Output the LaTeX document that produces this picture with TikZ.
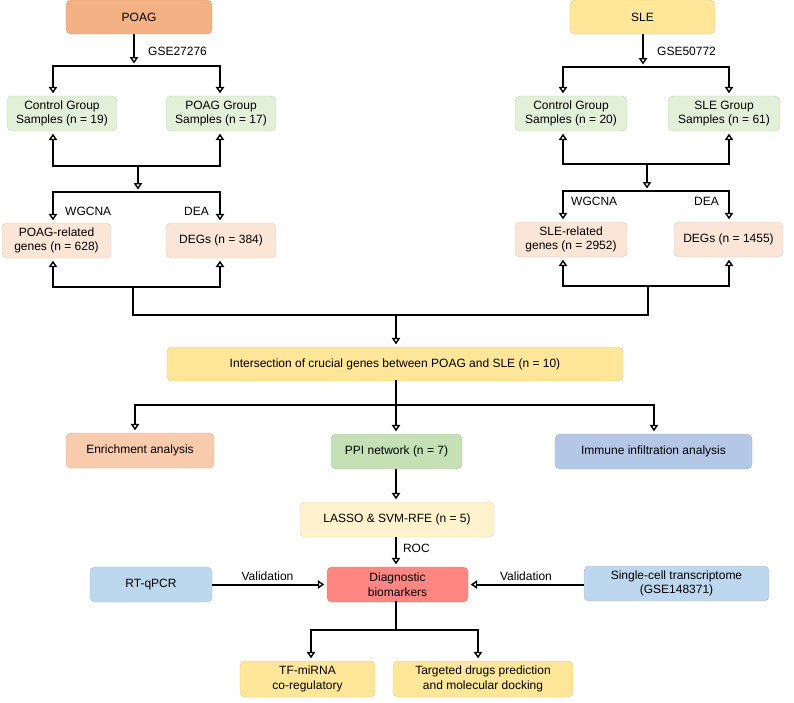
\documentclass[tikz,border=0pt]{standalone}
\usepackage{fontspec}
\setmainfont{Liberation Sans}
\usetikzlibrary{arrows.meta, positioning}

\definecolor{poagc}{HTML}{F4B183}
\definecolor{slec}{HTML}{FFE699}
\definecolor{sampc}{HTML}{E2F0D9}
\definecolor{genec}{HTML}{FBE5D6}
\definecolor{enrichc}{HTML}{F8CBAD}
\definecolor{ppic}{HTML}{C5E0B4}
\definecolor{immunec}{HTML}{B4C7E7}
\definecolor{lassoc}{HTML}{FFF2CC}
\definecolor{diagc}{HTML}{FF8682}
\definecolor{validc}{HTML}{BDD7EE}

\begin{document}
\begin{tikzpicture}[
    x=1pt, y=-1pt,
    box/.style={rounded corners=5pt, draw=#1!88!black, fill=#1, line width=0.4pt, align=center,
      inner sep=2pt, minimum height=35pt, font=\fontsize{12}{14.5}\selectfont},
    lbl/.style={inner sep=2pt, font=\fontsize{12}{14.5}\selectfont},
    line/.style={line width=2pt, line cap=rect},
    arr/.style={line width=2pt, -{Triangle[open, length=6.5pt, width=8.5pt, line width=1.4pt]}, shorten >=2.5pt}
  ]
  \useasboundingbox (0,0) rectangle (794,702);

  % POAG side
  \node[box=poagc, minimum width=146pt, minimum height=34pt] (poag) at (139,17) {POAG};
  \node[box=sampc, minimum width=110pt] (ctrlA) at (62,113.5) {Control Group\\Samples (n = 19)};
  \node[box=sampc, minimum width=110pt] (grpA) at (221,113.5) {POAG Group\\Samples (n = 17)};
  \node[box=genec, minimum width=109pt] (wgcnaA) at (56.5,240.5) {POAG-related\\genes (n = 628)};
  \node[box=genec, minimum width=110pt] (degA) at (221,240.5) {DEGs (n = 384)};

  % SLE side
  \node[box=slec, minimum width=145pt, minimum height=34pt] (sle) at (642.5,17) {SLE};
  \node[box=sampc, minimum width=112pt] (ctrlB) at (571,113.5) {Control Group\\Samples (n = 20)};
  \node[box=sampc, minimum width=112pt] (grpB) at (724,113.5) {SLE Group\\Samples (n = 61)};
  \node[box=genec, minimum width=112pt] (wgcnaB) at (571,239.5) {SLE-related\\genes (n = 2952)};
  \node[box=genec, minimum width=109pt] (degB) at (728.5,239.5) {DEGs (n = 1455)};

  % shared part
  \node[box=slec, minimum width=456pt, minimum height=34pt] (inter) at (395,364) {Intersection of crucial genes between POAG and SLE (n = 10)};
  \node[box=enrichc, minimum width=148pt] (enrich) at (140,450.5) {Enrichment analysis};
  \node[box=ppic, minimum width=131pt] (ppi) at (396.5,451.5) {PPI network (n = 7)};
  \node[box=immunec, minimum width=197pt] (immune) at (653.5,451.5) {Immune infiltration analysis};
  \node[box=lassoc, minimum width=194pt] (lasso) at (397,519.5) {LASSO \& SVM-RFE (n = 5)};
  \node[box=diagc, minimum width=141pt] (diag) at (397.5,584.5) {Diagnostic\\biomarkers};
  \node[box=validc, minimum width=122pt] (rtqpcr) at (151,584.5) {RT-qPCR};
  \node[box=validc, minimum width=185pt] (single) at (676.5,583.5) {Single-cell transcriptome\\(GSE148371)};
  \node[box=slec, minimum width=135pt, minimum height=36pt] (tfmirna) at (307.5,679) {TF-miRNA\\co-regulatory};
  \node[box=slec, minimum width=180pt, minimum height=36pt] (drugs) at (483,679) {Targeted drugs prediction\\and molecular docking};

  % POAG connectors
  \coordinate (splitA) at (134,66);
  \coordinate (splitAl) at (53,66);
  \coordinate (splitAr) at (220,66);
  \draw[arr] (poag.south -| splitA) -- (splitA);
  \node[lbl, anchor=west] (gseA) at (146,51) {GSE27276};
  \draw[line] (splitAl) -- (splitAr);
  \draw[arr] (splitAl) -- (splitAl |- ctrlA.north);
  \draw[arr] (splitAr) -- (splitAr |- grpA.north);

  \coordinate (joinAl) at (53,166);
  \coordinate (joinAr) at (220,166);
  \coordinate (joinA) at (138,166);
  \coordinate (geneAl) at (53,192);
  \coordinate (geneAr) at (220,192);
  \draw[arr] (joinAl) -- (joinAl |- ctrlA.south);
  \draw[arr] (joinAr) -- (joinAr |- grpA.south);
  \draw[line] (joinAl) -- (joinAr);
  \draw[arr] (joinA) -- (joinA |- geneAl);
  \draw[line] (geneAl) -- (geneAr);
  \draw[arr] (geneAl) -- (geneAl |- wgcnaA.north);
  \draw[arr] (geneAr) -- (geneAr |- degA.north);
  \node[lbl, anchor=west] (wgA) at (63,211) {WGCNA};
  \node[lbl, anchor=east] (deA) at (211,211) {DEA};

  \coordinate (botAl) at (53,287);
  \coordinate (botAr) at (220,287);
  \draw[arr] (botAl) -- (botAl |- wgcnaA.south);
  \draw[arr] (botAr) -- (botAr |- degA.south);
  \draw[line] (botAl) -- (botAr);

  % SLE connectors
  \coordinate (splitB) at (643,67);
  \coordinate (splitBl) at (563,67);
  \coordinate (splitBr) at (729,67);
  \draw[arr] (sle.south -| splitB) -- (splitB);
  \node[lbl, anchor=west] (gseB) at (655,51) {GSE50772};
  \draw[line] (splitBl) -- (splitBr);
  \draw[arr] (splitBl) -- (splitBl |- ctrlB.north);
  \draw[arr] (splitBr) -- (splitBr |- grpB.north);

  \coordinate (joinBl) at (563,164);
  \coordinate (joinBr) at (729,164);
  \coordinate (joinB) at (647,164);
  \coordinate (geneBl) at (563,191);
  \coordinate (geneBr) at (729,191);
  \draw[arr] (joinBl) -- (joinBl |- ctrlB.south);
  \draw[arr] (joinBr) -- (joinBr |- grpB.south);
  \draw[line] (joinBl) -- (joinBr);
  \draw[arr] (joinB) -- (joinB |- geneBl);
  \draw[line] (geneBl) -- (geneBr);
  \draw[arr] (geneBl) -- (geneBl |- wgcnaB.north);
  \draw[arr] (geneBr) -- (geneBr |- degB.north);
  \node[lbl, anchor=west] (wgB) at (569,201) {WGCNA};
  \node[lbl, anchor=east] (deB) at (721,201) {DEA};

  \coordinate (botBl) at (563,286);
  \coordinate (botBr) at (729,286);
  \draw[arr] (botBl) -- (botBl |- wgcnaB.south);
  \draw[arr] (botBr) -- (botBr |- degB.south);
  \draw[line] (botBl) -- (botBr);

  % merge into intersection
  \coordinate (mergeA) at (133,315);
  \coordinate (mergeB) at (648,315);
  \coordinate (mergeM) at (396,315);
  \draw[line] (mergeA |- botAl) -- (mergeA) -- (mergeB) -- (mergeB |- botBl);
  \draw[arr] (mergeM) -- (mergeM |- inter.north);

  % analyses
  \coordinate (anl) at (135,405);
  \coordinate (anr) at (654,405);
  \coordinate (anm) at (396,405);
  \draw[line] (anm |- inter.south) -- (anm);
  \draw[line] (anl) -- (anr);
  \draw[arr] (anl) -- (anl |- enrich.north);
  \draw[arr] (anm) -- (anm |- ppi.north);
  \draw[arr] (anr) -- (anr |- immune.north);

  \draw[arr] (anm |- ppi.south) -- (anm |- lasso.north);
  \draw[arr] (anm |- lasso.south) -- (anm |- diag.north) node[lbl, midway, right=4pt, yshift=4pt] (roc) {ROC};

  \draw[arr] (rtqpcr.east) -- (rtqpcr.east -| diag.west) node[lbl, midway, above=1pt, xshift=-2pt] (valA) {Validation};
  \draw[arr] (single.west |- diag.east) -- (diag.east) node[lbl, midway, above=1pt] (valB) {Validation};

  % outputs
  \coordinate (outl) at (311,630);
  \coordinate (outr) at (478,630);
  \coordinate (outm) at (396,630);
  \draw[line] (outm |- diag.south) -- (outm);
  \draw[line] (outl) -- (outr);
  \draw[arr] (outl) -- (outl |- tfmirna.north);
  \draw[arr] (outr) -- (outr |- drugs.north);

\end{tikzpicture}
\end{document}
